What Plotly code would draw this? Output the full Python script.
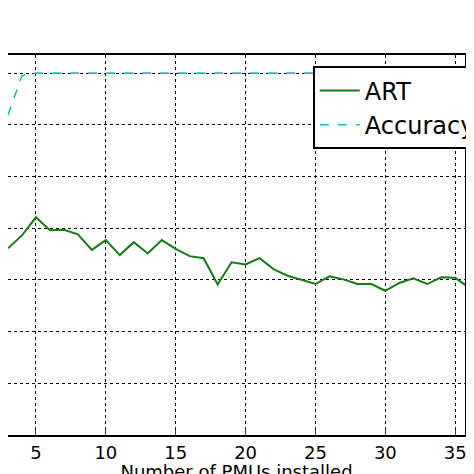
import plotly.graph_objects as go

pmus = list(range(3, 37))
art = [3.61, 3.86, 4.21, 3.96, 3.97, 3.88, 3.58, 3.77, 3.48, 3.73, 3.51, 3.77, 3.60, 3.46, 3.42,
       2.91, 3.34, 3.30, 3.42, 3.21, 3.08, 3.00, 2.92, 3.07, 3.01, 2.92, 2.92, 2.79, 2.94, 3.03,
       2.92, 3.05, 3.04, 2.85]
accuracy = [6.19, 6.95] + [7.0] * 32

fig = go.Figure()
fig.add_trace(go.Scatter(x=pmus, y=art, mode="lines", name="ART",
                         line=dict(color="#1a7a1a", width=2)))
fig.add_trace(go.Scatter(x=pmus, y=accuracy, mode="lines", name="Accuracy",
                         line=dict(color="#22bbbb", width=1.6, dash="dash")))
fig.update_layout(
    width=474, height=474, margin=dict(l=0, r=0, t=47, b=47),
    paper_bgcolor="white", plot_bgcolor="white",
    font=dict(family="DejaVu Sans", color="black"),
    legend=dict(x=0.667, y=0.97, xanchor="left", yanchor="top",
                bordercolor="black", borderwidth=2, bgcolor="white",
                font=dict(size=24), tracegroupgap=0, itemwidth=40),
    xaxis=dict(range=[3.0, 35.7], tickvals=[5, 10, 15, 20, 25, 30, 35], automargin=False,
               showgrid=True, gridcolor="black", griddash="dot", gridwidth=1,
               showline=True, linecolor="black", linewidth=2, mirror=True,
               ticks="inside", ticklen=5, tickfont=dict(size=18),
               title=dict(text="Number of PMUs installed", font=dict(size=18), standoff=4),
               zeroline=False),
    yaxis=dict(range=[0, 7.35], dtick=1, showticklabels=False, automargin=False,
               showgrid=True, gridcolor="black", griddash="dot", gridwidth=1,
               showline=True, linecolor="black", linewidth=2, mirror=True,
               zeroline=False),
)
fig.write_html("out.html")
